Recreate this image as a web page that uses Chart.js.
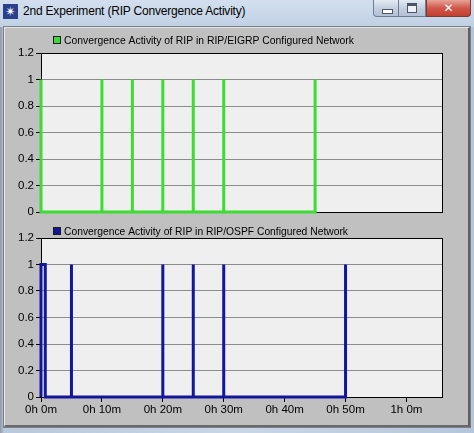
<!DOCTYPE html>
<html>
<head>
<meta charset="utf-8">
<title>2nd Experiment (RIP Convergence Activity)</title>
<script src="https://cdn.jsdelivr.net/npm/chart.js@4.4.1/dist/chart.umd.min.js"></script>
<style>
  html, body { margin: 0; padding: 0; }
  body {
    width: 474px; height: 433px; overflow: hidden; position: relative;
    background: linear-gradient(90deg, #8f99a6 0px, #b9c8db 4px, #c8d6e8 50%, #b6c6da 100%);
    font-family: "Liberation Sans", Arial, sans-serif;
  }
  #titlebar {
    position: absolute; left: 0; top: 0; width: 474px; height: 27px;
    background: linear-gradient(#d3dfee, #c0d0e4);
  }
  #icon {
    position: absolute; left: 3px; top: 4px; width: 15px; height: 15px;
    background: #2c3f8c; color: #fff; font: 13px "DejaVu Sans"; line-height: 15px; text-align: center;
  }
  #caption {
    position: absolute; left: 23px; top: 4px; font: 12px "Liberation Sans", sans-serif; color: #000;
    letter-spacing: -0.2px;
  }
  .btn {
    position: absolute; top: 0; height: 17px; box-sizing: border-box;
    border: 1px solid #6f7d92; border-top: none; text-align: center;
    background: linear-gradient(#e4ebf4, #c4d0e0 50%, #b3c1d5);
  }
  #bmin { left: 373px; width: 26px; border-radius: 0 0 0 4px; }
  #bmax { left: 399px; width: 27px; border-left: none; }
  #bclose {
    left: 426px; width: 45px; border-radius: 0 0 4px 0; border-color: #7c3a36;
    background: linear-gradient(#e8a49a, #d0574a 50%, #c2402f);
    color: #fff; font: bold 12px "DejaVu Sans"; line-height: 16px;
  }
  #bmin::after {
    content: ""; position: absolute; left: 8px; top: 9px; width: 9px; height: 3px;
    background: #fff; border: 1px solid #4b5566;
  }
  #bmax::after {
    content: ""; position: absolute; left: 8px; top: 3px; width: 8px; height: 6px;
    border: 1px solid #4b5566; border-top-width: 3px; background: #eef2f7;
  }
  #panel {
    position: absolute; left: 4px; top: 27px; width: 466px; height: 400px; box-sizing: border-box;
    background: #c0c0c0;
    border-top: 1px solid #e6e6e6; border-left: 1px solid #e6e6e6;
    border-right: 2px solid #5f5f5f; border-bottom: 2px solid #6a6a6a;
    outline: 1px solid #7a7f88;
  }
  canvas { position: absolute; left: 0; }
  #upper { top: 27px; }
  #lower { top: 217px; }
</style>
</head>
<body>
<div id="titlebar">
  <div id="icon">✴</div>
  <div id="caption">2nd Experiment (RIP Convergence Activity)</div>
  <div class="btn" id="bmin"></div>
  <div class="btn" id="bmax"></div>
  <div class="btn" id="bclose">✕</div>
</div>
<div id="panel"></div>
<canvas id="upper" width="474" height="194"></canvas>
<canvas id="lower" width="474" height="210"></canvas>
<script>
// time axis in minutes
const xMax = 66;
const xTicks = [0, 10, 20, 30, 40, 50, 60];
const xTickLabels = ["0h 0m", "0h 10m", "0h 20m", "0h 30m", "0h 40m", "0h 50m", "1h 0m"];
const yTicks = [0, 0.2, 0.4, 0.6, 0.8, 1, 1.2];
const yTickLabels = ["0", "0.2", "0.4", "0.6", "0.8", "1", "1.2"];

// RIP/EIGRP network: convergence activity pulses (start, end in minutes)
const eigrpStart = [0, 10, 15, 20, 25, 30, 45];
const eigrpEnd   = [0, 10, 15, 20, 25, 30, 45];
const eigrpValue = [1, 1, 1, 1, 1, 1, 1];

// RIP/OSPF network
const ospfStart = [0, 5, 20, 25, 30, 50];
const ospfEnd   = [0.7, 5, 20, 25, 30, 50];
const ospfValue = [1, 1, 1, 1, 1, 1];

const tickFont = { family: "Liberation Sans", size: 11.5 };

function pulses(starts, ends, values) {
  let pts = [];
  starts.forEach((s, i) => {
    pts.push({ x: s, y: 0 }, { x: s, y: values[i] }, { x: ends[i], y: values[i] }, { x: ends[i], y: 0 });
  });
  return pts;
}

// light plot background and black frame round the plot (under the data lines)
const plotFrame = {
  id: "plotFrame",
  beforeDraw(chart) {
    let a = chart.chartArea, ctx = chart.ctx;
    ctx.save();
    ctx.fillStyle = "#efefef";
    ctx.fillRect(a.left, a.top, a.right - a.left, a.bottom - a.top);
    ctx.restore();
  },
  beforeDatasetsDraw(chart) {
    let a = chart.chartArea, ctx = chart.ctx;
    ctx.save();
    ctx.strokeStyle = "#000";
    ctx.lineWidth = 1;
    ctx.strokeRect(Math.round(a.left) + 0.5, Math.round(a.top) + 0.5,
      Math.round(a.right - a.left) - 1, Math.round(a.bottom - a.top));
    ctx.restore();
  }
};

// OPNET style legend: small square box and label over the plot
const boxLegend = {
  id: "boxLegend",
  afterDraw(chart, args, opts) {
    let ds = chart.data.datasets[0], a = chart.chartArea, ctx = chart.ctx;
    let x = Math.round(a.left) + 12, y = Math.round(a.top - opts.offset);
    ctx.save();
    ctx.fillStyle = ds.borderColor;
    ctx.fillRect(x, y - 4, 8, 8);
    ctx.strokeStyle = "#1a1a1a";
    ctx.lineWidth = 1;
    ctx.strokeRect(x + 0.5, y - 3.5, 7, 7);
    ctx.fillStyle = "#000";
    ctx.font = '11px "Liberation Sans"';
    ctx.textBaseline = "middle";
    ctx.fillText(ds.label, x + 11, y + 0.5, opts.textWidth);
    ctx.restore();
  }
};

function makeChart(id, label, color, points, showX, padTop, legendOffset, legendWidth) {
  let ctx = document.getElementById(id).getContext("2d");
  return new Chart(ctx, {
    type: "line",
    data: {
      datasets: [{
        label: label,
        data: points,
        borderColor: color,
        borderWidth: 3,
        pointRadius: 0,
        tension: 0,
        borderJoinStyle: "miter",
        clip: false,
        fill: false
      }]
    },
    options: {
      responsive: false,
      animation: false,
      layout: { padding: { top: padTop, right: 31, bottom: showX ? 0 : 5, left: 0 } },
      plugins: {
        legend: { display: false },
        tooltip: { enabled: false },
        boxLegend: { offset: legendOffset, textWidth: legendWidth }
      },
      scales: {
        x: {
          type: "linear",
          min: 0,
          max: xMax,
          display: showX,
          afterBuildTicks: s => { s.ticks = xTicks.map(v => ({ value: v })); },
          afterFit: s => { if (showX) s.height = 30; },
          ticks: {
            autoSkip: false, maxRotation: 0, padding: 1, color: "#000", font: tickFont,
            callback: (v, i) => xTickLabels[i]
          },
          grid: { drawOnChartArea: false, tickColor: "#000", tickLength: 5 },
          border: { display: false }
        },
        y: {
          min: 0,
          max: 1.2,
          afterBuildTicks: s => { s.ticks = yTicks.map(v => ({ value: v })); },
          afterFit: s => { s.width = 41; },
          ticks: { padding: 2, color: "#000", font: tickFont, callback: (v, i) => yTickLabels[i] },
          grid: { color: "#8c8c8c", tickColor: "#000", tickLength: 5 },
          border: { display: false }
        }
      }
    },
    plugins: [plotFrame, boxLegend]
  });
}

makeChart("upper", "Convergence Activity of RIP in RIP/EIGRP Configured Network", "#3cdc32",
  pulses(eigrpStart, eigrpEnd, eigrpValue), false, 26, 13, 290);
makeChart("lower", "Convergence Activity of RIP in RIP/OSPF Configured Network", "#12169c",
  pulses(ospfStart, ospfEnd, ospfValue), true, 21, 7.5, 284);
</script>
</body>
</html>
